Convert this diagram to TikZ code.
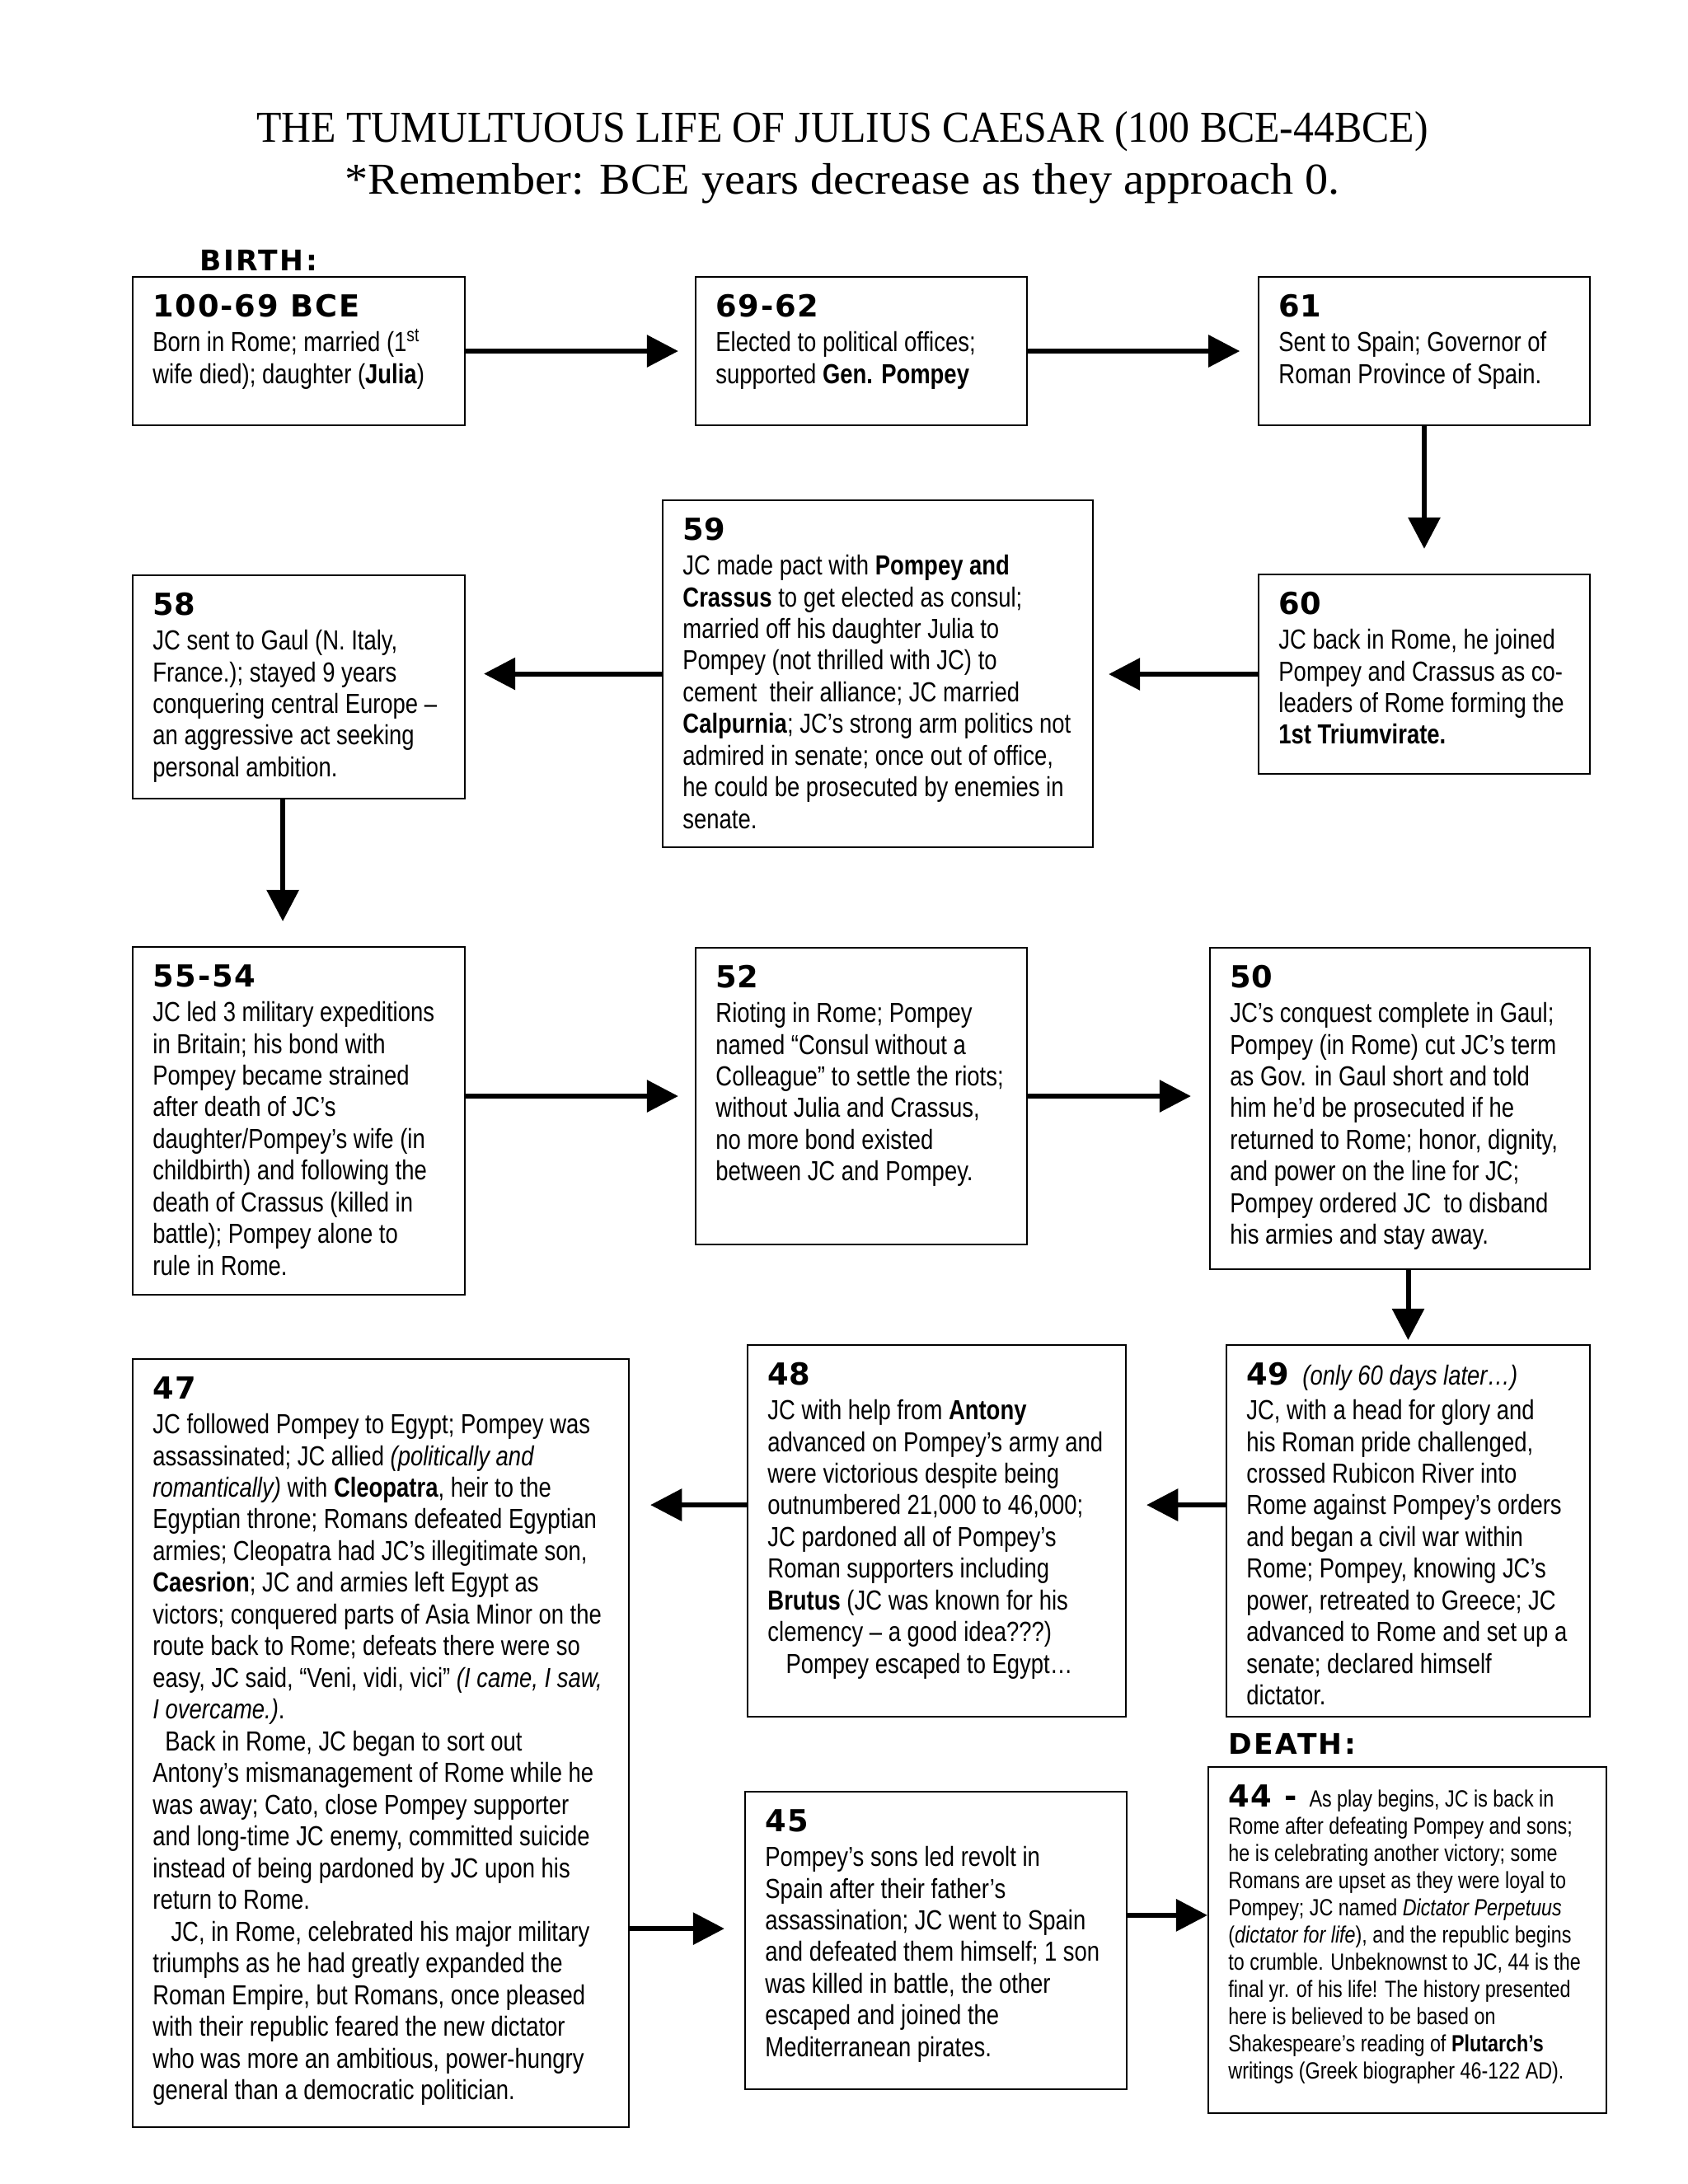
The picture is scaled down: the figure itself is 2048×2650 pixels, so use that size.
\documentclass[tikz,border=0pt]{standalone}
\usepackage{fontspec}
\usetikzlibrary{arrows.meta,calc}
\newfontfamily\bodyf[FakeStretch=0.82]{Liberation Sans}
\newfontfamily\headf{DejaVu Sans}
\newfontfamily\wideheadf[LetterSpace=5]{DejaVu Sans}
\newfontfamily\lblf[LetterSpace=7]{DejaVu Sans}
\newfontfamily\titlef[FakeStretch=0.93]{Liberation Serif}
\newfontfamily\titlefb[FakeStretch=1.05]{Liberation Serif}
\newdimen\pxd \pxd=0.298828pt
\newcommand\hd[1]{\rule{0pt}{49\pxd}{\headf\bfseries\fontsize{11}{13}\selectfont #1}}
\newcommand\hdw[1]{\rule{0pt}{49\pxd}{\wideheadf\bfseries\fontsize{11}{13}\selectfont #1}}
\newcommand\jcbox[6]{%
  \node[box, minimum width={(#4-#2)*0.298828pt}, minimum height={(#5-#3)*0.298828pt}] (b#1) at (#2,#3) {};
  \node[txt] (t#1) at ([xshift=7.4pt]b#1.north west) {#6};
}
\tikzset{
  box/.style={draw, line width=0.6pt, inner sep=0pt, anchor=north west},
  txt/.style={anchor=north west, inner sep=0pt, align=left, font=\bodyf\fontsize{10}{11.5}\selectfont},
  smalltxt/.style={txt, font=\bodyf\fontsize{8.5}{9.86}\selectfont},
  arr/.style={line width=1.8pt, -{Triangle[length=11.4pt,width=11.4pt]}},
  lbl/.style={inner sep=0pt, anchor=base west, font=\lblf\bfseries\fontsize{10.3}{12}\selectfont},
  ttl/.style={inner sep=0pt, anchor=base, font=\titlef\fontsize{16}{19}\selectfont},
  ttlb/.style={inner sep=0pt, anchor=base, font=\titlefb\fontsize{16}{19}\selectfont}
}
\begin{document}
\begin{tikzpicture}[x=0.298828pt, y=-0.298828pt]
\useasboundingbox[fill=white] (0,0) rectangle (2048,2650);

\node[ttl] (title1) at (1022,172) {THE TUMULTUOUS LIFE OF JULIUS CAESAR (100 BCE-44BCE)};
\node[ttlb] (title2) at (1022,235) {*Remember: BCE years decrease as they approach 0.};

\node[lbl] (birth) at (242,328) {BIRTH:};
\node[lbl] (death) at (1490,2128) {DEATH:};

\jcbox{1}{160}{335}{563}{515}{\hdw{100-69 BCE}\\[1pt]
Born in Rome; married (1\textsuperscript{st}\\
wife died); daughter (\textbf{Julia})}

\jcbox{2}{843}{335}{1245}{515}{\hdw{69-62}\\[1pt]
Elected to political offices;\\
supported \textbf{Gen. Pompey}}

\jcbox{3}{1526}{335}{1928}{515}{\hd{61}\\[1pt]
Sent to Spain; Governor of\\
Roman Province of Spain.}

\jcbox{60}{1526}{696}{1928}{938}{\hd{60}\\[1pt]
JC back in Rome, he joined\\
Pompey and Crassus as co-\\
leaders of Rome forming the\\
\textbf{1st Triumvirate.}}

\jcbox{59}{803}{606}{1325}{1027}{\hd{59}\\[1pt]
JC made pact with \textbf{Pompey and}\\
\textbf{Crassus} to get elected as consul;\\
married off his daughter Julia to\\
Pompey (not thrilled with JC) to\\
cement\ \ their alliance; JC married\\
\textbf{Calpurnia}; JC’s strong arm politics not\\
admired in senate; once out of office,\\
he could be prosecuted by enemies in\\
senate.}

\jcbox{58}{160}{697}{563}{968}{\hd{58}\\[1pt]
JC sent to Gaul (N. Italy,\\
France.); stayed 9 years\\
conquering central Europe –\\
an aggressive act seeking\\
personal ambition.}

\jcbox{55}{160}{1148}{563}{1570}{\hdw{55-54}\\[1pt]
JC led 3 military expeditions\\
in Britain; his bond with\\
Pompey became strained\\
after death of JC’s\\
daughter/Pompey’s wife (in\\
childbirth) and following the\\
death of Crassus (killed in\\
battle); Pompey alone to\\
rule in Rome.}

\jcbox{52}{843}{1149}{1245}{1509}{\hd{52}\\[1pt]
Rioting in Rome; Pompey\\
named “Consul without a\\
Colleague” to settle the riots;\\
without Julia and Crassus,\\
no more bond existed\\
between JC and Pompey.}

\jcbox{50}{1467}{1149}{1928}{1539}{\hd{50}\\[1pt]
JC’s conquest complete in Gaul;\\
Pompey (in Rome) cut JC’s term\\
as Gov. in Gaul short and told\\
him he’d be prosecuted if he\\
returned to Rome; honor, dignity,\\
and power on the line for JC;\\
Pompey ordered JC\ \ to disband\\
his armies and stay away.}

\jcbox{49}{1487}{1631}{1928}{2082}{\hd{49}\hspace{5pt}\textit{(only 60 days later…)}\\[1pt]
JC, with a head for glory and\\
his Roman pride challenged,\\
crossed Rubicon River into\\
Rome against Pompey’s orders\\
and began a civil war within\\
Rome; Pompey, knowing JC’s\\
power, retreated to Greece; JC\\
advanced to Rome and set up a\\
senate; declared himself\\
dictator.}

\jcbox{48}{906}{1631}{1365}{2082}{\hd{48}\\[1pt]
JC with help from \textbf{Antony}\\
advanced on Pompey’s army and\\
were victorious despite being\\
outnumbered 21,000 to 46,000;\\
JC pardoned all of Pompey’s\\
Roman supporters including\\
\textbf{Brutus} (JC was known for his\\
clemency – a good idea???)\\
\hspace*{6.6pt}Pompey escaped to Egypt…}

\jcbox{47}{160}{1648}{762}{2580}{\hdw{47}\\[1pt]
JC followed Pompey to Egypt; Pompey was\\
assassinated; JC allied \textit{(politically and}\\
\textit{romantically)} with \textbf{Cleopatra}, heir to the\\
Egyptian throne; Romans defeated Egyptian\\
armies; Cleopatra had JC’s illegitimate son,\\
\textbf{Caesrion}; JC and armies left Egypt as\\
victors; conquered parts of Asia Minor on the\\
route back to Rome; defeats there were so\\
easy, JC said, “Veni, vidi, vici” \textit{(I came, I saw,}\\
\textit{I overcame.)}.\\
\hspace*{4.5pt}Back in Rome, JC began to sort out\\
Antony’s mismanagement of Rome while he\\
was away; Cato, close Pompey supporter\\
and long-time JC enemy, committed suicide\\
instead of being pardoned by JC upon his\\
return to Rome.\\
\hspace*{6.6pt}JC, in Rome, celebrated his major military\\
triumphs as he had greatly expanded the\\
Roman Empire, but Romans, once pleased\\
with their republic feared the new dictator\\
who was more an ambitious, power-hungry\\
general than a democratic politician.}

\jcbox{45}{903}{2173}{1366}{2534}{\hdw{45}\\[1pt]
Pompey’s sons led revolt in\\
Spain after their father’s\\
assassination; JC went to Spain\\
and defeated them himself; 1 son\\
was killed in battle, the other\\
escaped and joined the\\
Mediterranean pirates.}

\node[box, minimum width={(1948-1465)*0.298828pt}, minimum height={(2563-2143)*0.298828pt}] (b44) at (1465,2143) {};
\node[smalltxt] (t44) at ([xshift=7.4pt]b44.north west) {\hdw{44 -}\hspace{4.5pt}As play begins, JC is back in\\
Rome after defeating Pompey and sons;\\
he is celebrating another victory; some\\
Romans are upset as they were loyal to\\
Pompey; JC named \textit{Dictator Perpetuus}\\
(\textit{dictator for life}), and the republic begins\\
to crumble. Unbeknownst to JC, 44 is the\\
final yr. of his life! The history presented\\
here is believed to be based on\\
Shakespeare’s reading of \textbf{Plutarch’s}\\
writings (Greek biographer 46-122 AD).};

\draw[arr, shorten >=6pt] (b1.east) -- (b2.west);
\draw[arr, shorten >=6.5pt] (b2.east) -- (b3.west);
\draw[arr, shorten >=9pt] (b3.south) -- (b60.north);
\draw[arr, shorten >=5.4pt] (b60.west) -- (b60.west -| b59.east);
\draw[arr, shorten >=6.6pt] (b59.west) -- (b59.west -| b58.east);
\draw[arr, shorten >=9pt] ([xshift=-5.8pt]b58.south) -- ([xshift=-5.8pt]b58.south |- b55.north);
\draw[arr, shorten >=6pt] (b52.west -| b55.east) -- (b52.west);
\draw[arr, shorten >=6.6pt] (b52.east) -- (b52.east -| b50.west);
\draw[arr, shorten >=1.5pt] (b49.north |- b50.south) -- (b49.north);
\draw[arr, shorten >=7.2pt] ([yshift=9.4pt]b49.west) -- ([yshift=9.4pt]b48.east);
\draw[arr, shorten >=7.5pt] ([yshift=9.4pt]b48.west) -- ([yshift=9.4pt]b48.west -| b47.east);
\draw[arr, shorten >=7.2pt] ([yshift=4.3pt]b45.west -| b47.east) -- ([yshift=4.3pt]b45.west);
\draw[arr] ([yshift=9pt]b44.west -| b45.east) -- ([yshift=9pt]b44.west);
\end{tikzpicture}
\end{document}
